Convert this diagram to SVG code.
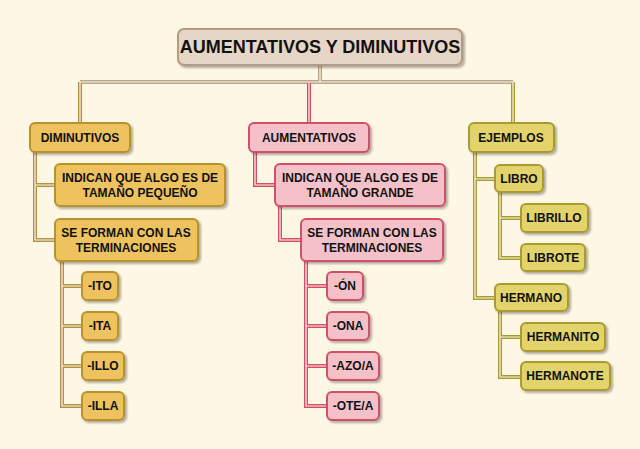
<svg xmlns="http://www.w3.org/2000/svg" width="640" height="449" viewBox="0 0 640 449">
<defs>
<filter id="sh" x="-10%" y="-10%" width="130%" height="140%"><feDropShadow dx="2" dy="2" stdDeviation="1.2" flood-color="#000" flood-opacity="0.3"/></filter>
<style>
text{font-family:"Liberation Sans",Arial,sans-serif;font-weight:bold;font-size:12px;fill:#111;text-anchor:middle}
.n rect{stroke-width:2;filter:url(#sh)}
.d rect{fill:#eec25f;stroke:#b8922c}
.a rect{fill:#f5c1c9;stroke:#d24f6c}
.e rect{fill:#e2d36a;stroke:#a99b33}
.o{fill:none;stroke-width:4}
.i{fill:none;stroke:#fdf7e4;stroke-width:1.2}
</style>
</defs>
<rect width="640" height="449" fill="#fdf7e4"/>
<g id="connectors">
<path class="o" stroke="#b9a58c" d="M320 65V82M80 82H513"/>
<path class="o" stroke="#b59045" d="M80 82V123M35 152V240H55M35 185H55M62 261V406H82M62 286H82M62 326H82M62 366H82"/>
<path class="o" stroke="#d24f6c" d="M309 82V123M255 152V185H275M280 206V240H301M306 261V406H327M306 286H327M306 326H327M306 366H327"/>
<path class="o" stroke="#a99b33" d="M513 82V123M475 152V298H495M475 179H495M500 192V258H521M500 218H521M500 311V377H521M500 337H521"/>
<path class="i" d="M320 65V82M80 82H513M80 82V123M35 152V240H55M35 185H55M62 261V406H82M62 286H82M62 326H82M62 366H82M309 82V123M255 152V185H275M280 206V240H301M306 261V406H327M306 286H327M306 326H327M306 366H327M513 82V123M475 152V298H495M475 179H495M500 192V258H521M500 218H521M500 311V377H521M500 337H521"/>
</g>
<g id="root" class="n"><rect x="178" y="29" width="284" height="36" rx="6" fill="#e6d6c6" stroke="#b39a82"/><text x="320" y="53" style="font-size:18px">AUMENTATIVOS Y DIMINUTIVOS</text></g>
<g id="dim" class="n d"><rect x="30" y="123" width="100" height="29" rx="5"/><text x="80" y="142">DIMINUTIVOS</text></g>
<g id="dim1" class="n d"><rect x="55" y="164" width="170" height="42" rx="5"/><text x="140" y="182">INDICAN QUE ALGO ES DE</text><text x="140" y="197">TAMAÑO PEQUEÑO</text></g>
<g id="dim2" class="n d"><rect x="55" y="219" width="143" height="42" rx="5"/><text x="126" y="237">SE FORMAN CON LAS</text><text x="126" y="252">TERMINACIONES</text></g>
<g id="ito" class="n d"><rect x="82" y="272" width="36" height="28" rx="5"/><text x="100" y="290">-ITO</text></g>
<g id="ita" class="n d"><rect x="82" y="312" width="36" height="28" rx="5"/><text x="100" y="330">-ITA</text></g>
<g id="illo" class="n d"><rect x="82" y="352" width="42" height="28" rx="5"/><text x="103" y="370">-ILLO</text></g>
<g id="illa" class="n d"><rect x="82" y="392" width="42" height="28" rx="5"/><text x="103" y="410">-ILLA</text></g>
<g id="aum" class="n a"><rect x="249" y="123" width="120" height="29" rx="5"/><text x="309" y="142">AUMENTATIVOS</text></g>
<g id="aum1" class="n a"><rect x="275" y="164" width="170" height="42" rx="5"/><text x="360" y="182">INDICAN QUE ALGO ES DE</text><text x="360" y="197">TAMAÑO GRANDE</text></g>
<g id="aum2" class="n a"><rect x="301" y="219" width="142" height="42" rx="5"/><text x="372" y="237">SE FORMAN CON LAS</text><text x="372" y="252">TERMINACIONES</text></g>
<g id="on" class="n a"><rect x="327" y="272" width="36" height="28" rx="5"/><text x="345" y="290">-ÓN</text></g>
<g id="ona" class="n a"><rect x="327" y="312" width="42" height="28" rx="5"/><text x="348" y="330">-ONA</text></g>
<g id="azo" class="n a"><rect x="327" y="352" width="52" height="28" rx="5"/><text x="353" y="370">-AZO/A</text></g>
<g id="ote" class="n a"><rect x="327" y="392" width="52" height="28" rx="5"/><text x="353" y="410">-OTE/A</text></g>
<g id="ej" class="n e"><rect x="469" y="123" width="85" height="29" rx="5"/><text x="511" y="142">EJEMPLOS</text></g>
<g id="libro" class="n e"><rect x="495" y="165" width="48" height="27" rx="5"/><text x="519" y="183">LIBRO</text></g>
<g id="librillo" class="n e"><rect x="521" y="204" width="67" height="28" rx="5"/><text x="554" y="222">LIBRILLO</text></g>
<g id="librote" class="n e"><rect x="521" y="244" width="64" height="27" rx="5"/><text x="553" y="262">LIBROTE</text></g>
<g id="hermano" class="n e"><rect x="495" y="284" width="73" height="27" rx="5"/><text x="531" y="302">HERMANO</text></g>
<g id="hermanito" class="n e"><rect x="521" y="323" width="84" height="28" rx="5"/><text x="563" y="341">HERMANITO</text></g>
<g id="hermanote" class="n e"><rect x="521" y="362" width="89" height="28" rx="5"/><text x="565" y="380">HERMANOTE</text></g>
</svg>
